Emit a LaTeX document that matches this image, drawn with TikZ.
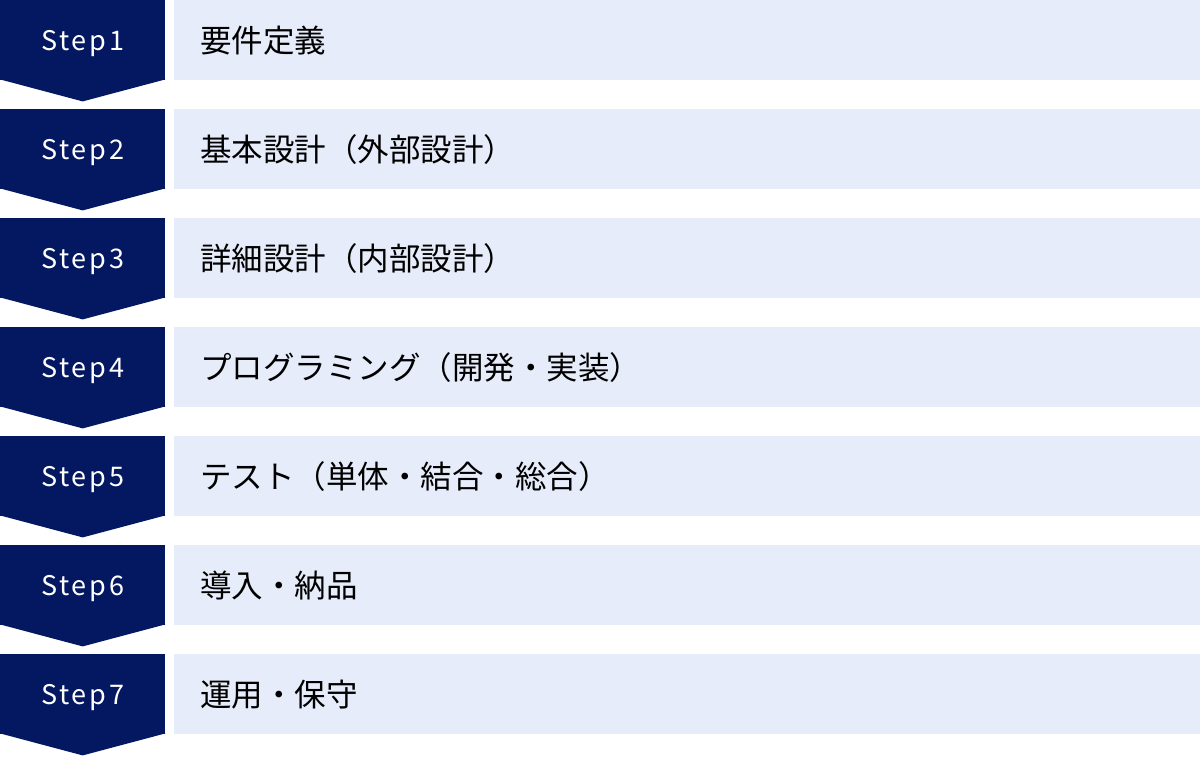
\documentclass[tikz,border=0pt]{standalone}
\usepackage{fontspec}
\setmainfont{Noto Sans CJK JP}
\newfontfamily\stepfont[LetterSpace=10]{Noto Sans CJK JP}
\usepackage{tikz}
\usetikzlibrary{calc}

\definecolor{stepnavy}{RGB}{4,24,98}
\definecolor{boxblue}{RGB}{230,236,249}

\tikzset{
  stepbox/.style={fill=stepnavy, text=white, minimum width=165pt, minimum height=80pt,
    inner sep=0pt, text depth=0pt, font=\stepfont\fontsize{27}{27}\selectfont},
  taskbox/.style={fill=boxblue, text=black, minimum height=80pt, text width=974pt,
    inner xsep=26pt, inner ysep=0pt, align=left, font=\fontsize{31.5}{31.5}\selectfont},
  steptip/.style={fill=stepnavy}
}

\begin{document}
\begin{tikzpicture}[x=1pt,y=1pt]
                    \useasboundingbox (0,0) rectangle (1200,-756);
                    \node[stepbox, anchor=north west] (s1) at (0,0) {Step1};
                    \node[stepbox, anchor=north west] (s2) at (0,-109) {Step2};
                    \node[stepbox, anchor=north west] (s3) at (0,-218) {Step3};
                    \node[stepbox, anchor=north west] (s4) at (0,-327) {Step4};
                    \node[stepbox, anchor=north west] (s5) at (0,-436) {Step5};
                    \node[stepbox, anchor=north west] (s6) at (0,-545) {Step6};
                    \node[stepbox, anchor=north west] (s7) at (0,-654) {Step7};
                    \fill[steptip] ($(s1.south west)+(0,1)$) -- ($(s1.south east)+(0,1)$) -- ($(s1.south)+(0,-21)$) -- cycle;
                    \fill[steptip] ($(s2.south west)+(0,1)$) -- ($(s2.south east)+(0,1)$) -- ($(s2.south)+(0,-21)$) -- cycle;
                    \fill[steptip] ($(s3.south west)+(0,1)$) -- ($(s3.south east)+(0,1)$) -- ($(s3.south)+(0,-21)$) -- cycle;
                    \fill[steptip] ($(s4.south west)+(0,1)$) -- ($(s4.south east)+(0,1)$) -- ($(s4.south)+(0,-21)$) -- cycle;
                    \fill[steptip] ($(s5.south west)+(0,1)$) -- ($(s5.south east)+(0,1)$) -- ($(s5.south)+(0,-21)$) -- cycle;
                    \fill[steptip] ($(s6.south west)+(0,1)$) -- ($(s6.south east)+(0,1)$) -- ($(s6.south)+(0,-21)$) -- cycle;
                    \fill[steptip] ($(s7.south west)+(0,1)$) -- ($(s7.south east)+(0,1)$) -- ($(s7.south)+(0,-21)$) -- cycle;
                    \node[taskbox, anchor=north west] (t1) at (174,0) {要件定義};
                    \node[taskbox, anchor=north west] (t2) at (174,-109) {基本設計（外部設計）};
                    \node[taskbox, anchor=north west] (t3) at (174,-218) {詳細設計（内部設計）};
                    \node[taskbox, anchor=north west] (t4) at (174,-327) {プログラミング（開発・実装）};
                    \node[taskbox, anchor=north west] (t5) at (174,-436) {テスト（単体・結合・総合）};
                    \node[taskbox, anchor=north west] (t6) at (174,-545) {導入・納品};
                    \node[taskbox, anchor=north west] (t7) at (174,-654) {運用・保守};
                \end{tikzpicture}
\end{document}
